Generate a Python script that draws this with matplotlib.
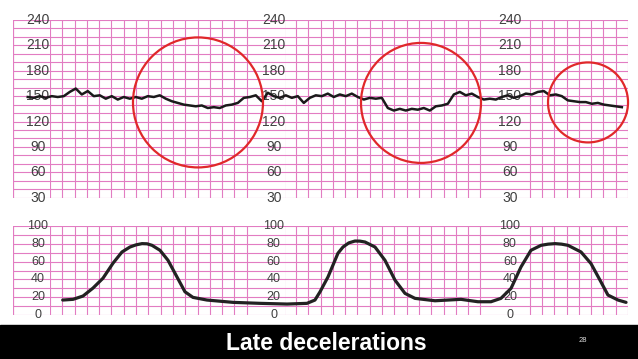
import matplotlib.pyplot as plt
import numpy as np
from matplotlib.patches import Ellipse, Rectangle

plt.rcParams['font.family'] = ['Liberation Sans', 'DejaVu Sans']

fhr_bpm = [149, 148, 150, 148, 150, 149, 150, 155, 159, 152,
           156, 150, 151, 147, 150, 146, 149, 147, 149, 147,
           150, 149, 151, 147, 144, 142, 140, 139, 138, 139,
           136, 137, 136, 139, 140, 142, 148, 149, 151, 144,
           154, 150, 148, 151, 148, 150, 142, 148, 151, 150,
           153, 149, 152, 150, 153, 149, 146, 148, 147, 148,
           136, 133, 135, 133, 135, 134, 136, 133, 138, 139,
           141, 152, 155, 151, 153, 149, 146, 147, 146, 149,
           151, 148, 150, 153, 152, 155, 156, 151, 152, 150,
           145, 144, 143, 143, 141, 142, 140, 139, 138, 137]
fhr_start, fhr_end = 1.2, 49.5

# uterine contractions (mmHg)
toco_time = [4.04, 4.88, 5.69, 6.50, 7.32, 8.13, 8.86, 9.51, 10.0, 10.49,
             10.9, 11.30, 11.95, 12.60, 13.33, 13.98, 14.63, 15.77, 17.89, 20.08,
             22.28, 23.90, 24.55, 24.96, 25.61, 26.42, 26.83, 27.3, 27.80, 28.2,
             28.62, 29.43, 30.24, 31.06, 31.87, 32.68, 34.31, 36.42, 37.80, 38.86,
             39.67, 40.49, 41.30, 42.11, 42.93, 43.5, 44.07, 44.6, 45.12, 46.18,
             46.99, 47.80, 48.37, 49.19, 49.84]
toco_mmhg = [16.8, 17.6, 21.3, 30.2, 41.4, 58.2, 70.8, 76.4, 78.8, 80.2,
             80.0, 78.3, 72.7, 61.5, 42.8, 26.1, 19.8, 16.8, 14.2, 13.1,
             12.3, 13.1, 16.8, 26.0, 42.8, 69.4, 76.4, 81.0, 83.1, 83.0,
             82.0, 76.4, 61.5, 39.1, 24.3, 18.7, 16.0, 17.6, 14.9, 14.9,
             18.7, 29.9, 54.0, 72.7, 78.3, 79.6, 80.2, 79.6, 78.3, 70.8,
             57.8, 37.2, 22.4, 16.8, 14.2]

fhr_ticks = [30, 60, 90, 120, 150, 180, 210, 240]
toco_ticks = [0, 20, 40, 60, 80, 100]
label_cols = [2.03, 21.2, 40.4]

# red circles: (centre time, centre bpm, radius in px)
circles = [(15.04, 142.6, 65), (33.17, 142.0, 60), (46.75, 142.6, 40)]

W, H = 638, 359
grid_c = '#e27cc2'
fig = plt.figure(figsize=(W / 100, H / 100), dpi=100)

ax1 = fig.add_axes([13 / W, (H - 197.7) / H, 615 / W, 177.7 / H])
ax2 = fig.add_axes([13 / W, (H - 315) / H, 615 / W, 89 / H])


def paper(ax, ylo, yhi, ticks, fs):
    ax.set_xlim(0, 50)
    ax.set_ylim(ylo, yhi)
    ax.axis('off')
    ax.vlines(np.arange(0, 51), ylo, yhi, color=grid_c, lw=0.8, zorder=1)
    for c in label_cols:
        ax.axvspan(c - 1.45, c + 0.95, color='white', lw=0, zorder=2)
    ax.axvline(0, color=grid_c, lw=0.8, zorder=2)
    ax.hlines(np.arange(ylo, yhi + 1, 10), 0, 50, color=grid_c, lw=0.8, zorder=3)
    for c in label_cols:
        for t in ticks:
            ax.text(c, t, str(t), ha='center', va='center', fontsize=fs,
                    color='#404040', zorder=4)


paper(ax1, 30, 240, fhr_ticks, 10)
paper(ax2, 0, 100, toco_ticks, 9)

fhr_time = np.linspace(fhr_start, fhr_end, len(fhr_bpm))
ax1.plot(fhr_time, fhr_bpm, color='#1a1a1a', lw=1.8, zorder=5,
         solid_joinstyle='round')
ax2.plot(toco_time, toco_mmhg, color='#222222', lw=2.3, zorder=5,
         solid_joinstyle='round', solid_capstyle='round')

px_x = 615 / 50
px_y = 177.7 / 210
for cx, cy, r in circles:
    ax1.add_patch(Ellipse((cx, cy), 2 * r / px_x, 2 * r / px_y, fill=False,
                          ec='#e0282a', lw=1.6, zorder=6, clip_on=False))

fig.patches.append(Rectangle((0, 0), 1, 34 / H, transform=fig.transFigure,
                             color='black', zorder=0))
fig.text(326 / W, 1 - 343 / H, 'Late decelerations', color='white',
         fontsize=16.5, fontweight='bold', ha='center', va='center')
fig.text(583 / W, 1 - 341 / H, '28', color='#dddddd', fontsize=5.5,
         ha='center', va='center')

fig.savefig('out.png', dpi=100)
